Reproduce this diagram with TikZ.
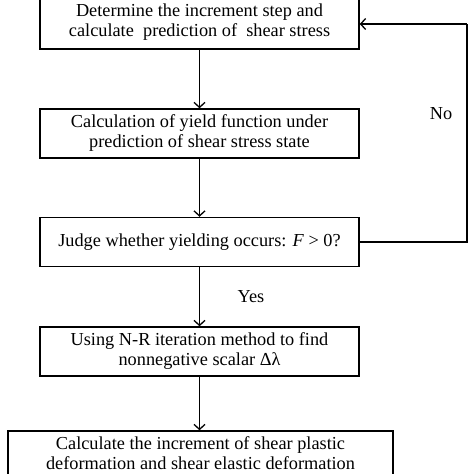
\documentclass[tikz,border=0pt]{standalone}
\usepackage{fontspec}
\setmainfont{Liberation Serif}
\usetikzlibrary{arrows.meta}
\begin{document}
\begin{tikzpicture}[x=1pt,y=1pt,
  flowbox/.style={draw, line width=1.5pt, align=center, inner sep=0pt,
    font=\fontsize{18.3}{20}\selectfont, minimum height=49pt},
  stdbox/.style={flowbox, minimum width=319pt},
  widebox/.style={flowbox, minimum width=385pt},
  flowarrow/.style={line width=1.3pt, -{Straight Barb[length=5pt,width=11pt,line width=1.3pt]}},
  flowline/.style={line width=1.3pt},
  lbl/.style={font=\fontsize{18.3}{20}\selectfont, inner sep=0pt}]
\useasboundingbox (0,0) rectangle (474,-474);
\clip (0,0) rectangle (474,-474);
\fill[white] (0,0) rectangle (474,-474);
\node[stdbox, minimum height=53pt] (b1) at (199.5,-22.5) {Determine the increment step and\\calculate\ \ prediction of\ \ shear stress};
\node[stdbox] (b2) at (199.5,-133.5) {Calculation of yield function under\\prediction of shear stress state};
\node[stdbox] (b3) at (199.5,-242) {Judge whether yielding occurs: \textit{F} > 0?};
\node[stdbox] (b4) at (199.5,-351.5) {Using N-R iteration method to find\\nonnegative scalar Δλ};
\node[widebox, minimum height=45pt] (b5) at (200.5,-453.5) {Calculate the increment of shear plastic\\deformation and shear elastic deformation};
\draw[flowarrow] (b1) -- (b2);
\draw[flowarrow] (b2) -- (b3);
\draw[flowarrow] (b3) -- (b4);
\draw[flowarrow] (b4.south) -- (b4.south |- b5.north);
\coordinate (c1) at (467,-242);
\coordinate (c2) at (467,-24);
\draw[flowline] (b3.east) -- (c1) -- (c2);
\draw[flowarrow] (c2) -- (b1.east |- c2);
\node[lbl] (no) at (441,-114) {No};
\node[lbl] (yes) at (251,-297) {Yes};
\end{tikzpicture}
\end{document}
